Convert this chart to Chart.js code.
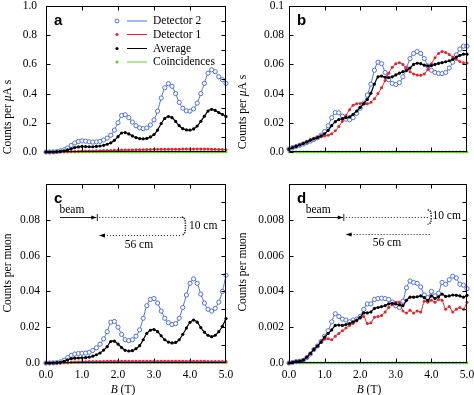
<!DOCTYPE html>
<html>
<head>
<meta charset="utf-8">
<script src="https://cdn.jsdelivr.net/npm/chart.js@4.4.1/dist/chart.umd.min.js"></script>
<style>
html, body { margin: 0; padding: 0; background: #fff; }
#wrap { position: relative; width: 474px; height: 395px; }
#wrap canvas { position: absolute; left: 0; top: 0; }
</style>
</head>
<body>
<div id="wrap">
<canvas id="pa" width="474" height="395"></canvas>
<canvas id="pb" width="474" height="395"></canvas>
<canvas id="pc" width="474" height="395"></canvas>
<canvas id="pd" width="474" height="395"></canvas>
</div>
<script>
// magnetic field B (T)
const B = [0.0,0.1,0.2,0.3,0.4,0.5,0.6,0.7,0.8,0.9,
  1.0,1.1,1.2,1.3,1.4,1.5,1.6,1.7,1.8,1.9,
  2.0,2.1,2.2,2.3,2.4,2.5,2.6,2.7,2.8,2.9,
  3.0,3.1,3.2,3.3,3.4,3.5,3.6,3.7,3.8,3.9,
  4.0,4.1,4.2,4.3,4.4,4.5,4.6,4.7,4.8,4.9,
  5.0];

const names = ['Detector 2', 'Detector 1', 'Average', 'Coincidences'];

// panel a : counts per uA s
const aDet2 = [0.000,0.000,0.001,0.003,0.008,0.015,0.028,0.045,0.062,0.072,
  0.076,0.074,0.070,0.068,0.069,0.073,0.082,0.095,0.115,0.150,
  0.200,0.250,0.255,0.235,0.205,0.180,0.165,0.160,0.165,0.185,
  0.220,0.280,0.370,0.440,0.468,0.450,0.400,0.340,0.300,0.282,
  0.280,0.295,0.335,0.400,0.470,0.540,0.563,0.550,0.515,0.495,
  0.470];
const aDet1 = [0,0,0,0,0,0.001,0.002,0.003,0.004,0.005,
  0.006,0.0065,0.007,0.0075,0.008,0.009,0.0095,0.010,0.011,0.0115,
  0.012,0.013,0.0135,0.014,0.0145,0.015,0.0155,0.016,0.0165,0.017,
  0.018,0.018,0.0185,0.019,0.019,0.019,0.0195,0.0195,0.020,0.020,
  0.020,0.020,0.021,0.021,0.020,0.020,0.019,0.018,0.017,0.017,
  0.016];
const aAvg = [0.000,0.000,0.000,0.002,0.004,0.008,0.014,0.022,0.030,0.035,
  0.038,0.037,0.036,0.036,0.038,0.041,0.046,0.053,0.063,0.080,
  0.105,0.130,0.133,0.124,0.110,0.099,0.092,0.090,0.093,0.103,
  0.120,0.150,0.195,0.230,0.243,0.235,0.210,0.180,0.160,0.151,
  0.150,0.158,0.178,0.210,0.245,0.280,0.292,0.285,0.270,0.258,
  0.243];
const aCoin = [0,0,0,0,0,0,0,0,0,0, 0,0,0,0,0,0,0,0,0,0, 0,0,0,0,0,0,0,0,0,0,
  0,0,0,0,0,0,0,0,0,0, 0,0,0,0,0,0,0,0,0,0, 0];

// panel b : counts per uA s
const bDet2 = [0.0020,0.0030,0.0038,0.0046,0.0055,0.0065,0.0075,0.0086,0.0098,0.0115,
  0.0140,0.0180,0.0235,0.0270,0.0268,0.0245,0.0225,0.0220,0.0235,0.0265,
  0.0300,0.0335,0.0390,0.0465,0.0560,0.0615,0.0605,0.0545,0.0495,0.0470,
  0.0462,0.0475,0.0515,0.0575,0.0640,0.0675,0.0688,0.0675,0.0640,0.0590,
  0.0560,0.0545,0.0538,0.0537,0.0545,0.0575,0.0615,0.0665,0.0705,0.0725,
  0.0725];
const bDet1 = [0.0020,0.0030,0.0040,0.0050,0.0060,0.0072,0.0085,0.0095,0.0100,0.0105,
  0.0110,0.0115,0.0125,0.0145,0.0175,0.0210,0.0250,0.0290,0.0320,0.0330,
  0.0333,0.0330,0.0330,0.0340,0.0365,0.0400,0.0440,0.0490,0.0540,0.0580,
  0.0605,0.0612,0.0600,0.0575,0.0550,0.0535,0.0527,0.0525,0.0535,0.0565,
  0.0605,0.0645,0.0675,0.0688,0.0682,0.0668,0.0650,0.0635,0.0620,0.0612,
  0.0610];
const bAvg = [0.0020,0.0030,0.0039,0.0048,0.0058,0.0068,0.0080,0.0090,0.0099,0.0110,
  0.0125,0.0148,0.0180,0.0208,0.0222,0.0228,0.0235,0.0240,0.0258,0.0280,
  0.0305,0.0332,0.0360,0.0403,0.0465,0.0515,0.0520,0.0512,0.0510,0.0515,
  0.0528,0.0540,0.0550,0.0558,0.0575,0.0600,0.0608,0.0605,0.0595,0.0590,
  0.0592,0.0600,0.0607,0.0612,0.0618,0.0625,0.0635,0.0650,0.0662,0.0670,
  0.0670];
const bCoin = [0,0,0,0,0,0,0,0,0,0, 0,0,0,0,0,0,0,0,0,0, 0,0,0,0,0,0,0,0,0,0,
  0,0,0,0,0,0,0,0,0,0, 0,0,0,0,0,0,0,0,0,0, 0];

// panel c : counts per muon
const cDet2 = [0.0000,0.0000,0.0001,0.0002,0.0006,0.0015,0.0030,0.0043,0.0050,0.0053,
  0.0054,0.0055,0.0060,0.0070,0.0085,0.0105,0.0135,0.0175,0.0228,0.0232,
  0.0200,0.0160,0.0130,0.0125,0.0130,0.0150,0.0185,0.0250,0.0320,0.0355,
  0.0360,0.0335,0.0290,0.0250,0.0225,0.0215,0.0220,0.0250,0.0310,0.0380,
  0.0445,0.0470,0.0445,0.0385,0.0335,0.0300,0.0290,0.0305,0.0340,0.0400,
  0.0490];
const cDet1 = [0,0,0,0,0,0.0001,0.0002,0.0004,0.0005,0.0006,
  0.0007,0.0007,0.0008,0.0008,0.0009,0.0009,0.0009,0.0010,0.0010,0.0010,
  0.0010,0.0010,0.0010,0.0010,0.0010,0.0010,0.0010,0.0010,0.0010,0.0010,
  0.0010,0.0010,0.0010,0.0010,0.0010,0.0010,0.0010,0.0010,0.0010,0.0010,
  0.0010,0.0010,0.0010,0.0010,0.0010,0.0009,0.0009,0.0009,0.0009,0.0009,
  0.0009];
const cAvg = [0.0000,0.0000,0.0001,0.0002,0.0004,0.0009,0.0017,0.0024,0.0027,0.0028,
  0.0029,0.0030,0.0033,0.0038,0.0046,0.0056,0.0072,0.0092,0.0120,0.0122,
  0.0106,0.0086,0.0071,0.0067,0.0069,0.0080,0.0097,0.0130,0.0165,0.0183,
  0.0187,0.0175,0.0152,0.0130,0.0117,0.0112,0.0115,0.0130,0.0160,0.0195,
  0.0227,0.0240,0.0228,0.0198,0.0172,0.0155,0.0147,0.0155,0.0175,0.0205,
  0.0248];
const cCoin = [0,0,0,0,0,0,0.0001,0.0001,0.0001,0.0001, 0.0001,0.0001,0.0001,0.0001,0.0001,0.0001,0.0001,0.0001,0.0001,0.0001,
  0.0001,0.0001,0.0001,0.0001,0.0001,0.0001,0.0001,0.0001,0.0001,0.0001, 0.0001,0.0001,0.0001,0.0001,0.0001,0.0001,0.0001,0.0001,0.0001,0.0001,
  0.0001,0.0001,0.0001,0.0001,0.0001,0.0001,0.0001,0.0001,0.0001,0.0001, 0.0001];

// panel d : counts per muon
const dDet2 = [0.00000,0.00003,0.00008,0.00010,0.00015,0.00030,0.00050,0.00075,0.00095,0.00120,
  0.00150,0.00180,0.00230,0.00275,0.00260,0.00245,0.00240,0.00230,0.00240,0.00245,
  0.00260,0.00300,0.00330,0.00330,0.00355,0.00360,0.00362,0.00360,0.00355,0.00340,
  0.00320,0.00310,0.00345,0.00420,0.00458,0.00450,0.00445,0.00425,0.00380,0.00365,
  0.00400,0.00375,0.00390,0.00450,0.00440,0.00465,0.00485,0.00475,0.00440,0.00435,
  0.00415];
const dDet1 = [0.00000,0.00003,0.00008,0.00010,0.00018,0.00035,0.00055,0.00078,0.00095,0.00115,
  0.00132,0.00135,0.00130,0.00150,0.00165,0.00180,0.00195,0.00210,0.00220,0.00235,
  0.00250,0.00260,0.00220,0.00225,0.00255,0.00260,0.00265,0.00285,0.00310,0.00325,
  0.00340,0.00340,0.00290,0.00280,0.00295,0.00280,0.00290,0.00285,0.00345,0.00340,
  0.00350,0.00340,0.00355,0.00350,0.00300,0.00315,0.00285,0.00300,0.00310,0.00300,
  0.00340];
const dAvg = [0.00000,0.00003,0.00008,0.00010,0.00016,0.00032,0.00052,0.00076,0.00095,0.00118,
  0.00145,0.00165,0.00185,0.00210,0.00212,0.00210,0.00215,0.00220,0.00230,0.00240,
  0.00255,0.00280,0.00280,0.00285,0.00305,0.00310,0.00315,0.00320,0.00330,0.00333,
  0.00330,0.00325,0.00320,0.00350,0.00368,0.00368,0.00370,0.00375,0.00365,0.00350,
  0.00375,0.00360,0.00370,0.00385,0.00372,0.00375,0.00380,0.00378,0.00375,0.00368,
  0.00378];
const dCoin = [0,0,0,0,0,0,0,0,0,0, 0,0,0,0,0,0,0,0,0,0, 0,0,0,0,0,0,0,0,0,0,
  0,0,0,0,0,0,0,0,0,0, 0,0,0,0,0,0,0,0,0,0, 0];

// tick labels
const xTickVals = [0, 1, 2, 3, 4, 5];
const xTickLabels = ['0.0', '1.0', '2.0', '3.0', '4.0', '5.0'];
const yTicksA = [0, 0.2, 0.4, 0.6, 0.8, 1.0];
const yLabelsA = ['0.0', '0.2', '0.4', '0.6', '0.8', '1.0'];
const yTicksB = [0, 0.02, 0.04, 0.06, 0.08, 0.1];
const yLabelsB = ['0.0', '0.02', '0.04', '0.06', '0.08', '0.1'];
const yTicksC = [0, 0.02, 0.04, 0.06, 0.08];
const yLabelsC = ['0.0', '0.02', '0.04', '0.06', '0.08'];
const yTicksD = [0, 0.002, 0.004, 0.006, 0.008];
const yLabelsD = ['0.0', '0.002', '0.004', '0.006', '0.008'];

const BLUE = '#4f6fe8', RED = '#e8222a', BLACK = '#000000', GREEN = '#5fd02a';
const SERIF = '"Liberation Serif", "DejaVu Serif", serif';

function pts(arr) { return arr.map((v, i) => ({x: B[i], y: v})); }

function sets(det2, det1, avg, coin) {
  return [
    {label: names[2], data: pts(avg), borderColor: BLACK, backgroundColor: BLACK, borderWidth: 1.2,
     pointRadius: 1.6, pointBorderWidth: 0, clip: false},
    {label: names[1], data: pts(det1), borderColor: RED, backgroundColor: RED, borderWidth: 1,
     pointRadius: 1.5, pointBorderWidth: 0, clip: false},
    {label: names[0], data: pts(det2), borderColor: BLUE, backgroundColor: '#fff', borderWidth: 1,
     pointRadius: 2.1, pointBorderWidth: 1, pointBorderColor: BLUE, clip: false},
    {label: names[3], data: pts(coin), borderColor: GREEN, backgroundColor: GREEN, borderWidth: 2,
     pointRadius: 1.4, pointBorderWidth: 0, clip: false}
  ];
}

function txt(ctx, parts, x, y, align) {
  // parts: [text, italic]
  let w = 0;
  parts.forEach(p => { ctx.font = (p[1] ? 'italic ' : '') + '11.5px ' + SERIF; w += ctx.measureText(p[0]).width; });
  let cx = align === 'left' ? x : x - w / 2;
  ctx.textAlign = 'left';
  ctx.textBaseline = 'middle';
  parts.forEach(p => {
    ctx.font = (p[1] ? 'italic ' : '') + '11.5px ' + SERIF;
    ctx.fillText(p[0], cx, y);
    cx += ctx.measureText(p[0]).width;
  });
}

// frame, inward ticks, titles, legend and sketch
const deco = {
  id: 'deco',
  afterDatasetsDraw(chart, args, o) {
    const ctx = chart.ctx, ca = chart.chartArea, xs = chart.scales.x, ys = chart.scales.y;
    const L = Math.round(ca.left) + 0.5, R = Math.round(ca.right) - 0.5;
    const T = Math.round(ca.top) + 0.5, Bt = Math.round(ca.bottom) - 0.5;
    ctx.save();
    ctx.strokeStyle = '#000';
    ctx.lineWidth = 1;
    ctx.strokeRect(L, T, R - L, Bt - T);
    ctx.beginPath();
    o.yMajor.forEach(v => {
      const p = Math.round(ys.getPixelForValue(v)) + 0.5;
      ctx.moveTo(L, p); ctx.lineTo(L + 4, p);
    });
    for (let k = 1; k < o.nMinor; k++) {
      const p = Math.round(ys.getPixelForValue(o.ymax * k / o.nMinor)) + 0.5;
      ctx.moveTo(R, p); ctx.lineTo(R - 4, p);
    }
    [1, 2, 3, 4].forEach(v => {
      const p = Math.round(xs.getPixelForValue(v)) + 0.5;
      ctx.moveTo(p, Bt); ctx.lineTo(p, Bt - 4);
      ctx.moveTo(p, T); ctx.lineTo(p, T + 4);
    });
    ctx.stroke();

    ctx.fillStyle = '#000';
    ctx.font = 'bold 15px "Liberation Sans", Arial, sans-serif';
    ctx.textAlign = 'left';
    ctx.textBaseline = 'alphabetic';
    ctx.fillText(o.letter, o.lx, o.ly);

    ctx.save();
    ctx.translate(o.tx, o.ty);
    ctx.rotate(-Math.PI / 2);
    txt(ctx, o.title, 0, 0);
    ctx.restore();

    if (o.xTitle) txt(ctx, [['B', true], [' (T)', false]], o.xTitle[0], o.xTitle[1]);

    if (o.legend) {
      const cols = [BLUE, RED, BLACK, GREEN];
      o.legend.rows.forEach((ry, i) => {
        ctx.strokeStyle = cols[i];
        ctx.lineWidth = 1;
        ctx.beginPath();
        ctx.moveTo(127, ry); ctx.lineTo(147, ry);
        ctx.stroke();
        ctx.beginPath();
        if (i === 0) {
          ctx.arc(117, ry, 2, 0, Math.PI * 2);
          ctx.stroke();
        } else {
          ctx.fillStyle = cols[i];
          ctx.arc(117, ry, 1.6, 0, Math.PI * 2);
          ctx.fill();
        }
        ctx.fillStyle = '#000';
        txt(ctx, [[names[i], false]], 153, ry, 'left');
      });
    }

    if (o.sketch) {
      const s = o.sketch;
      const X = v => xs.getPixelForValue(v), Y = v => ys.getPixelForValue(v);
      ctx.strokeStyle = '#222';
      ctx.fillStyle = '#000';
      txt(ctx, [['beam', false]], X(s.beam[0]), Y(s.beam[1]));
      const yb = Math.round(Y(s.line[2])) + 0.5;
      const x1 = X(s.line[0]), x2 = X(s.line[1]), x3 = X(s.line[3]);
      // solid beam arrow with stop bar
      ctx.beginPath();
      ctx.moveTo(x1, yb); ctx.lineTo(x2 - 1, yb);
      ctx.moveTo(x2, yb - 3.5); ctx.lineTo(x2, yb + 3.5);
      ctx.stroke();
      ctx.beginPath();
      ctx.moveTo(x2 - 1, yb); ctx.lineTo(x2 - 6, yb - 2); ctx.lineTo(x2 - 6, yb + 2); ctx.closePath();
      ctx.fill();
      // dotted continuation
      ctx.setLineDash([1, 2]);
      ctx.beginPath();
      ctx.moveTo(x2 + 2, yb); ctx.lineTo(x3, yb);
      ctx.stroke();
      // bracket
      const by1 = Y(s.brace[0]), by2 = Y(s.brace[1]), bx = X(s.brace[2]);
      ctx.setLineDash([1.2, 1.2]);
      ctx.lineWidth = 1.6;
      ctx.beginPath();
      ctx.moveTo(bx - 2, by1);
      ctx.quadraticCurveTo(bx + 2, by1, bx + 1.5, (by1 + by2) / 2);
      ctx.quadraticCurveTo(bx + 2, by2, bx - 2, by2);
      ctx.stroke();
      ctx.lineWidth = 1;
      txt(ctx, [['10 cm', false]], X(s.ten[0]), Y(s.ten[1]), 'left');
      // lower 56 cm arrow
      const ya = Math.round(Y(s.low[2])) + 0.5, xa = X(s.low[0]), xb = X(s.low[1]);
      ctx.setLineDash([1, 2]);
      ctx.beginPath();
      ctx.moveTo(xa + 5, ya); ctx.lineTo(xb, ya);
      ctx.stroke();
      ctx.setLineDash([]);
      ctx.beginPath();
      ctx.moveTo(xa, ya); ctx.lineTo(xa + 6, ya - 2); ctx.lineTo(xa + 6, ya + 2); ctx.closePath();
      ctx.fill();
      txt(ctx, [['56 cm', false]], X(s.fifty[0]), Y(s.fifty[1]));
    }
    ctx.restore();
  }
};

function panel(id, data, o) {
  return new Chart(document.getElementById(id), {
    type: 'line',
    data: {datasets: data},
    options: {
      responsive: false,
      animation: false,
      devicePixelRatio: 1,
      events: [],
      layout: {padding: o.pad},
      elements: {line: {tension: 0.3}},
      plugins: {legend: {display: false}, tooltip: {enabled: false}, deco: o.deco},
      scales: {
        x: {
          type: 'linear', min: 0, max: 5, display: o.showX,
          grid: {display: false, drawTicks: false}, border: {display: false},
          afterBuildTicks: s => { s.ticks = xTickVals.map(v => ({value: v})); },
          ticks: {autoSkip: false, maxRotation: 0, padding: 5, color: '#000',
                  font: {family: SERIF, size: 11.5}, callback: (v, i) => xTickLabels[i]},
          afterFit: s => { s.height = 32; s.paddingLeft = 0; s.paddingRight = 0; }
        },
        y: {
          type: 'linear', min: 0, max: o.ymax,
          grid: {display: false, drawTicks: false}, border: {display: false},
          afterBuildTicks: s => { s.ticks = o.yTicks.map(v => ({value: v})); },
          ticks: {autoSkip: false, padding: o.yPad, color: '#000',
                  font: {family: SERIF, size: 11.5}, callback: (v, i) => o.yLabels[i]},
          afterFit: s => { s.width = 46; s.paddingTop = 0; s.paddingBottom = 0; }
        }
      }
    },
    plugins: [deco]
  });
}

const perUA = [['Counts per ', false], ['\u03bc', true], ['A s', false]];
const perMuon = [['Counts per muon', false]];

panel('pa', sets(aDet2, aDet1, aAvg, aCoin), {
  pad: {left: 0, top: 6, right: 248, bottom: 211}, showX: false, ymax: 1.0,
  yTicks: yTicksA, yLabels: yLabelsA, yPad: 9,
  deco: {yMajor: yTicksA, ymax: 1.0, nMinor: 10, letter: 'a', lx: 54, ly: 25,
         title: perUA, tx: 8, ty: 117,
         legend: {rows: [21, 34.5, 48.5, 62]}}
});
panel('pb', sets(bDet2, bDet1, bAvg, bCoin), {
  pad: {left: 243, top: 6, right: 7, bottom: 211}, showX: false, ymax: 0.1,
  yTicks: yTicksB, yLabels: yLabelsB, yPad: 5,
  deco: {yMajor: yTicksB, ymax: 0.1, nMinor: 10, letter: 'b', lx: 297, ly: 25,
         title: perUA, tx: 243, ty: 112}
});
panel('pc', sets(cDet2, cDet1, cAvg, cCoin), {
  pad: {left: 0, top: 184, right: 248, bottom: 0}, showX: true, ymax: 0.1,
  yTicks: yTicksC, yLabels: yLabelsC, yPad: 6,
  deco: {yMajor: yTicksC, ymax: 0.1, nMinor: 10, letter: 'c', lx: 54, ly: 203,
         title: perMuon, tx: 8, ty: 273, xTitle: [123, 390],
         sketch: {beam: [0.72, 0.0853], line: [0.39, 1.425, 0.0815, 3.83],
                  brace: [0.0815, 0.0716, 3.83], ten: [3.97, 0.0768],
                  low: [1.47, 3.74, 0.0716], fifty: [2.58, 0.066]}}
});
panel('pd', sets(dDet2, dDet1, dAvg, dCoin), {
  pad: {left: 243, top: 184, right: 7, bottom: 0}, showX: true, ymax: 0.01,
  yTicks: yTicksD, yLabels: yLabelsD, yPad: 5,
  deco: {yMajor: yTicksD, ymax: 0.01, nMinor: 10, letter: 'd', lx: 297, ly: 203,
         title: perMuon, tx: 243, ty: 272, xTitle: [369, 390],
         sketch: {beam: [0.82, 0.00853], line: [0.51, 1.54, 0.00815, 3.92],
                  brace: [0.00855, 0.00775, 3.95], ten: [4.03, 0.0082],
                  low: [1.59, 3.96, 0.0072], fifty: [2.75, 0.0067]}}
});
</script>
</body>
</html>
